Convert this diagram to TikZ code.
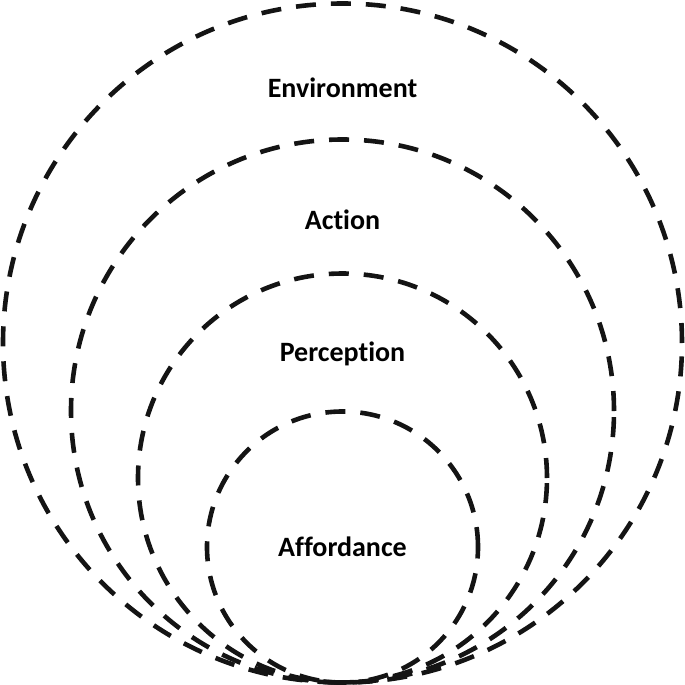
\documentclass[tikz,border=0pt]{standalone}
\usepackage{fontspec}
\setmainfont{Carlito}[RawFeature={-liga}]
\begin{document}
\begin{tikzpicture}[x=1pt,y=-1pt,
  ring/.style={circle,draw=black!92,line width=4.6pt,dash pattern=on 20pt off 15pt,inner sep=0pt,fill=none},
  lbl/.style={anchor=base,inner sep=0pt,font=\fontsize{28}{32}\selectfont\bfseries,text=black}]
\useasboundingbox (0,0) rectangle (685,685);
\node[ring,minimum size=679pt] (env) at (342.5,343) {};
\node[ring,minimum size=543pt] (act) at (342.5,411) {};
\node[ring,minimum size=409pt] (per) at (342.5,478) {};
\node[ring,minimum size=271pt] (aff) at (342.5,547) {};
\node[lbl] (tenv) at (342.5,97) {Environment};
\node[lbl] (tact) at (342.5,229) {Action};
\node[lbl] (tper) at (342.5,361) {Perception};
\node[lbl] (taff) at (342.5,556) {Affordance};
\end{tikzpicture}
\end{document}
